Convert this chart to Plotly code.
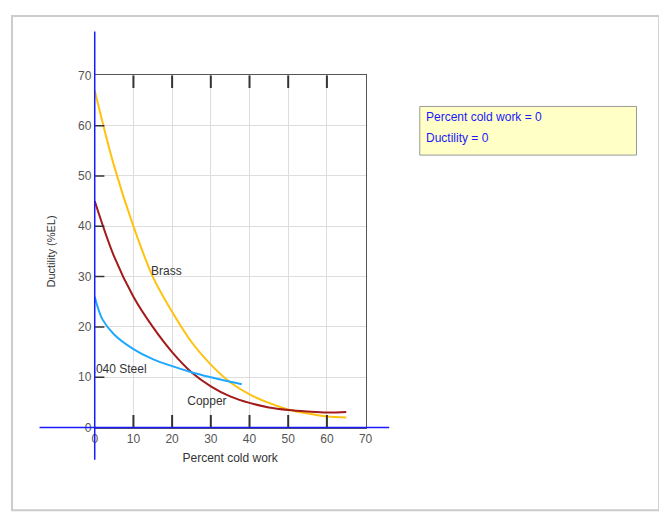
import plotly.graph_objects as go

# ── data ──
brass_x = [0, 5, 10, 15, 20, 25, 30, 35, 40, 45, 50, 55, 60, 65]
brass_y = [67, 52, 40, 30, 23, 17, 12.5, 9, 6.6, 4.9, 3.6, 2.8, 2.2, 2.0]
copper_x = [0, 5, 10, 15, 20, 25, 30, 35, 40, 45, 50, 55, 60, 65]
copper_y = [45, 34, 26, 20, 15, 11, 8.2, 6.2, 4.9, 4.0, 3.5, 3.2, 3.0, 3.1]
steel_x = [0, 2, 5, 10, 15, 20, 25, 30, 35, 38]
steel_y = [26, 21.5, 18.5, 15.6, 13.6, 12.2, 11, 10, 9.1, 8.6]
labels = ["Brass", "Copper", "1040 Steel"]
label_x = [18.5, 29, 6]
label_y = [31, 5, 11.5]
ticks = [0, 10, 20, 30, 40, 50, 60, 70]

BLUE = "#1a1aff"
W, H, OFF = 667, 518, 8  # page body margin shifts the plot by 8px


def px(v):
    return (v - OFF) / W


def py(v):
    return 1 - (v - OFF) / H


X0, X1 = px(93), px(368)
Y0, Y1 = py(432), py(70)

fig = go.Figure()
for x, y, c in [(brass_x, brass_y, "#ffc20e"), (copper_x, copper_y, "#a31a1a"),
                (steel_x, steel_y, "#1fa8ff")]:
    fig.add_trace(go.Scatter(x=x, y=y, mode="lines", line=dict(color=c, width=2, shape="spline"),
                             showlegend=False, hoverinfo="skip"))

fig.add_trace(go.Scatter(x=label_x, y=label_y, mode="text", text=labels,
                         textfont=dict(size=12, color="#333"), showlegend=False))

# diamond endpoints of the blue axes (outside the plot range, not clipped)
fig.add_trace(go.Scatter(x=[-14.25, 76.1, 0, 0], y=[0, 0, 78.7, -6.4], mode="markers",
                         cliponaxis=False, marker=dict(symbol="diamond", size=8, color=BLUE),
                         showlegend=False, hoverinfo="skip"))

shapes = [
    dict(type="rect", xref="paper", yref="paper", x0=px(9), x1=px(666), y0=py(517), y1=py(9),
         line=dict(color="#cccccc", width=2)),
    dict(type="line", xref="paper", yref="paper", x0=px(37), x1=px(392), y0=Y0, y1=Y0,
         line=dict(color=BLUE, width=1.5)),
    dict(type="line", xref="paper", yref="paper", x0=X0, x1=X0, y0=py(465), y1=py(25),
         line=dict(color=BLUE, width=1.5)),
    dict(type="rect", xref="paper", yref="paper", x0=px(423), x1=px(643),
         y0=py(152), y1=py(102), fillcolor="#ffffc6", line=dict(color="#999", width=1)),
]
for t in ticks[1:-1]:
    shapes.append(dict(type="line", x0=t, x1=t, y0=70, y1=67.5, line=dict(color="#333", width=2)))
    shapes.append(dict(type="line", x0=t, x1=t, y0=0, y1=2.5, line=dict(color="#333", width=2)))
    shapes.append(dict(type="line", x0=0, x1=2.5, y0=t, y1=t, line=dict(color="#333", width=1.5)))
fig.update_layout(shapes=shapes)

fig.add_annotation(xref="paper", yref="paper", x=px(427), y=py(113), xanchor="left",
                   yanchor="middle", showarrow=False, align="left",
                   text="Percent cold work = 0", font=dict(size=12, color=BLUE))
fig.add_annotation(xref="paper", yref="paper", x=px(427), y=py(134), xanchor="left",
                   yanchor="middle", showarrow=False, align="left",
                   text="Ductility = 0", font=dict(size=12, color=BLUE))

fig.update_layout(
    width=W, height=H, margin=dict(l=0, r=0, t=0, b=0),
    paper_bgcolor="white", plot_bgcolor="white",
    font=dict(family="Arial, Liberation Sans, sans-serif", size=12, color="#333"),
    xaxis=dict(domain=[X0, X1], range=[0, 70], tickvals=ticks, showgrid=True, gridcolor="#dddddd",
               zeroline=False, showline=True, linecolor="#555", mirror=True, ticks="",
               tickfont=dict(size=12, color="#555"),
               title=dict(text="Percent cold work", font=dict(size=12, color="#333"), standoff=8)),
    yaxis=dict(domain=[Y0, Y1], range=[0, 70], tickvals=ticks, showgrid=True, gridcolor="#dddddd",
               zeroline=False, showline=True, linecolor="#555", mirror=True, ticks="",
               tickfont=dict(size=12, color="#555"),
               title=dict(text="Ductility (%EL)", font=dict(size=11, color="#333"), standoff=20)),
)

fig.write_html("out.html")
